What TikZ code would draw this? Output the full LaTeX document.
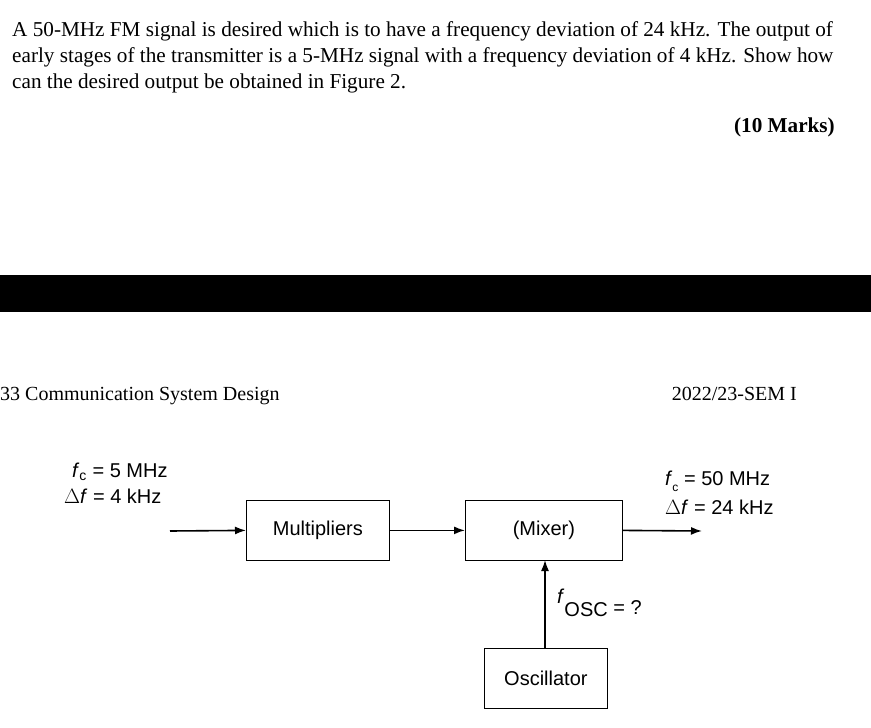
\documentclass[tikz,border=0pt]{standalone}
\usepackage{fontspec}
\usetikzlibrary{arrows.meta}
\setmainfont{Liberation Serif}
\newfontfamily\labfont{Liberation Sans}
\begin{document}
\begin{tikzpicture}[x=1pt,y=-1pt,
  blk/.style={draw,line width=0.8pt,minimum width=#1,minimum height=60pt,font=\labfont\fontsize{20}{22}\selectfont},
  lab/.style={font=\labfont\fontsize{20}{26}\selectfont,inner sep=0pt},
  txt/.style={font=\fontsize{21.2}{26}\selectfont,inner sep=0pt},
  arr/.style={line width=1.6pt,-{Latex[length=11pt,width=8pt]}}]
\useasboundingbox (0,0) rectangle (871,728);
\node[txt,anchor=base west] (l1) at (12,36) {A 50-MHz FM signal is desired which is to have a frequency deviation of 24 kHz. The output of};
\node[txt,anchor=base west] (l2) at (12,62) {early stages of the transmitter is a 5-MHz signal with a frequency deviation of 4 kHz. Show how};
\node[txt,anchor=base west] (l3) at (12,88) {can the desired output be obtained in Figure 2.};
\node[txt,anchor=base east,font=\bfseries\fontsize{21.2}{26}\selectfont] (mk) at (835,132) {(10 Marks)};
\fill[black] (0,275) rectangle (871,312);
\node[txt,anchor=base west,font=\fontsize{20}{26}\selectfont] (hd) at (0,400) {33 Communication System Design};
\node[txt,anchor=base east,font=\fontsize{20}{26}\selectfont] (sem) at (797,400) {2022/23-SEM I};
\node[lab,anchor=base west] (inl1) at (72,477) {\textit{f}\textsubscript{c} = 5 MHz};
\node[lab,anchor=base west] (inl2) at (64,503) {$\Delta$\textit{f} = 4 kHz};
\node[blk=143pt,anchor=north west] (mul) at (246,500) {Multipliers};
\node[blk=157pt,anchor=north west] (mix) at (465,500) {(Mixer)};
\node[blk=123pt,anchor=north west] (osc) at (484,648) {Oscillator};
\coordinate (in) at (170,531);
\coordinate (out) at (702,531);
\coordinate (oscTop) at (545,648);
\coordinate (mixBot) at (545,560);
\draw[arr] (in) -- (mul.west);
\draw[arr] (mul.east) -- (mix.west);
\draw[arr] (mix.east) -- (out);
\draw[arr] (oscTop) -- (mixBot);
\node[lab,anchor=base west] (ol1) at (665,485) {\textit{f}\raisebox{-0.6ex}{\fontsize{12}{12}\selectfont c} = 50 MHz};
\node[lab,anchor=base west] (ol2) at (665,514) {$\Delta$\textit{f} = 24 kHz};
\node[lab,anchor=base west] (fo) at (557,614) {\raisebox{1ex}{\textit{f}}\raisebox{-0.2ex}{OSC} = ?};
\end{tikzpicture}
\end{document}
